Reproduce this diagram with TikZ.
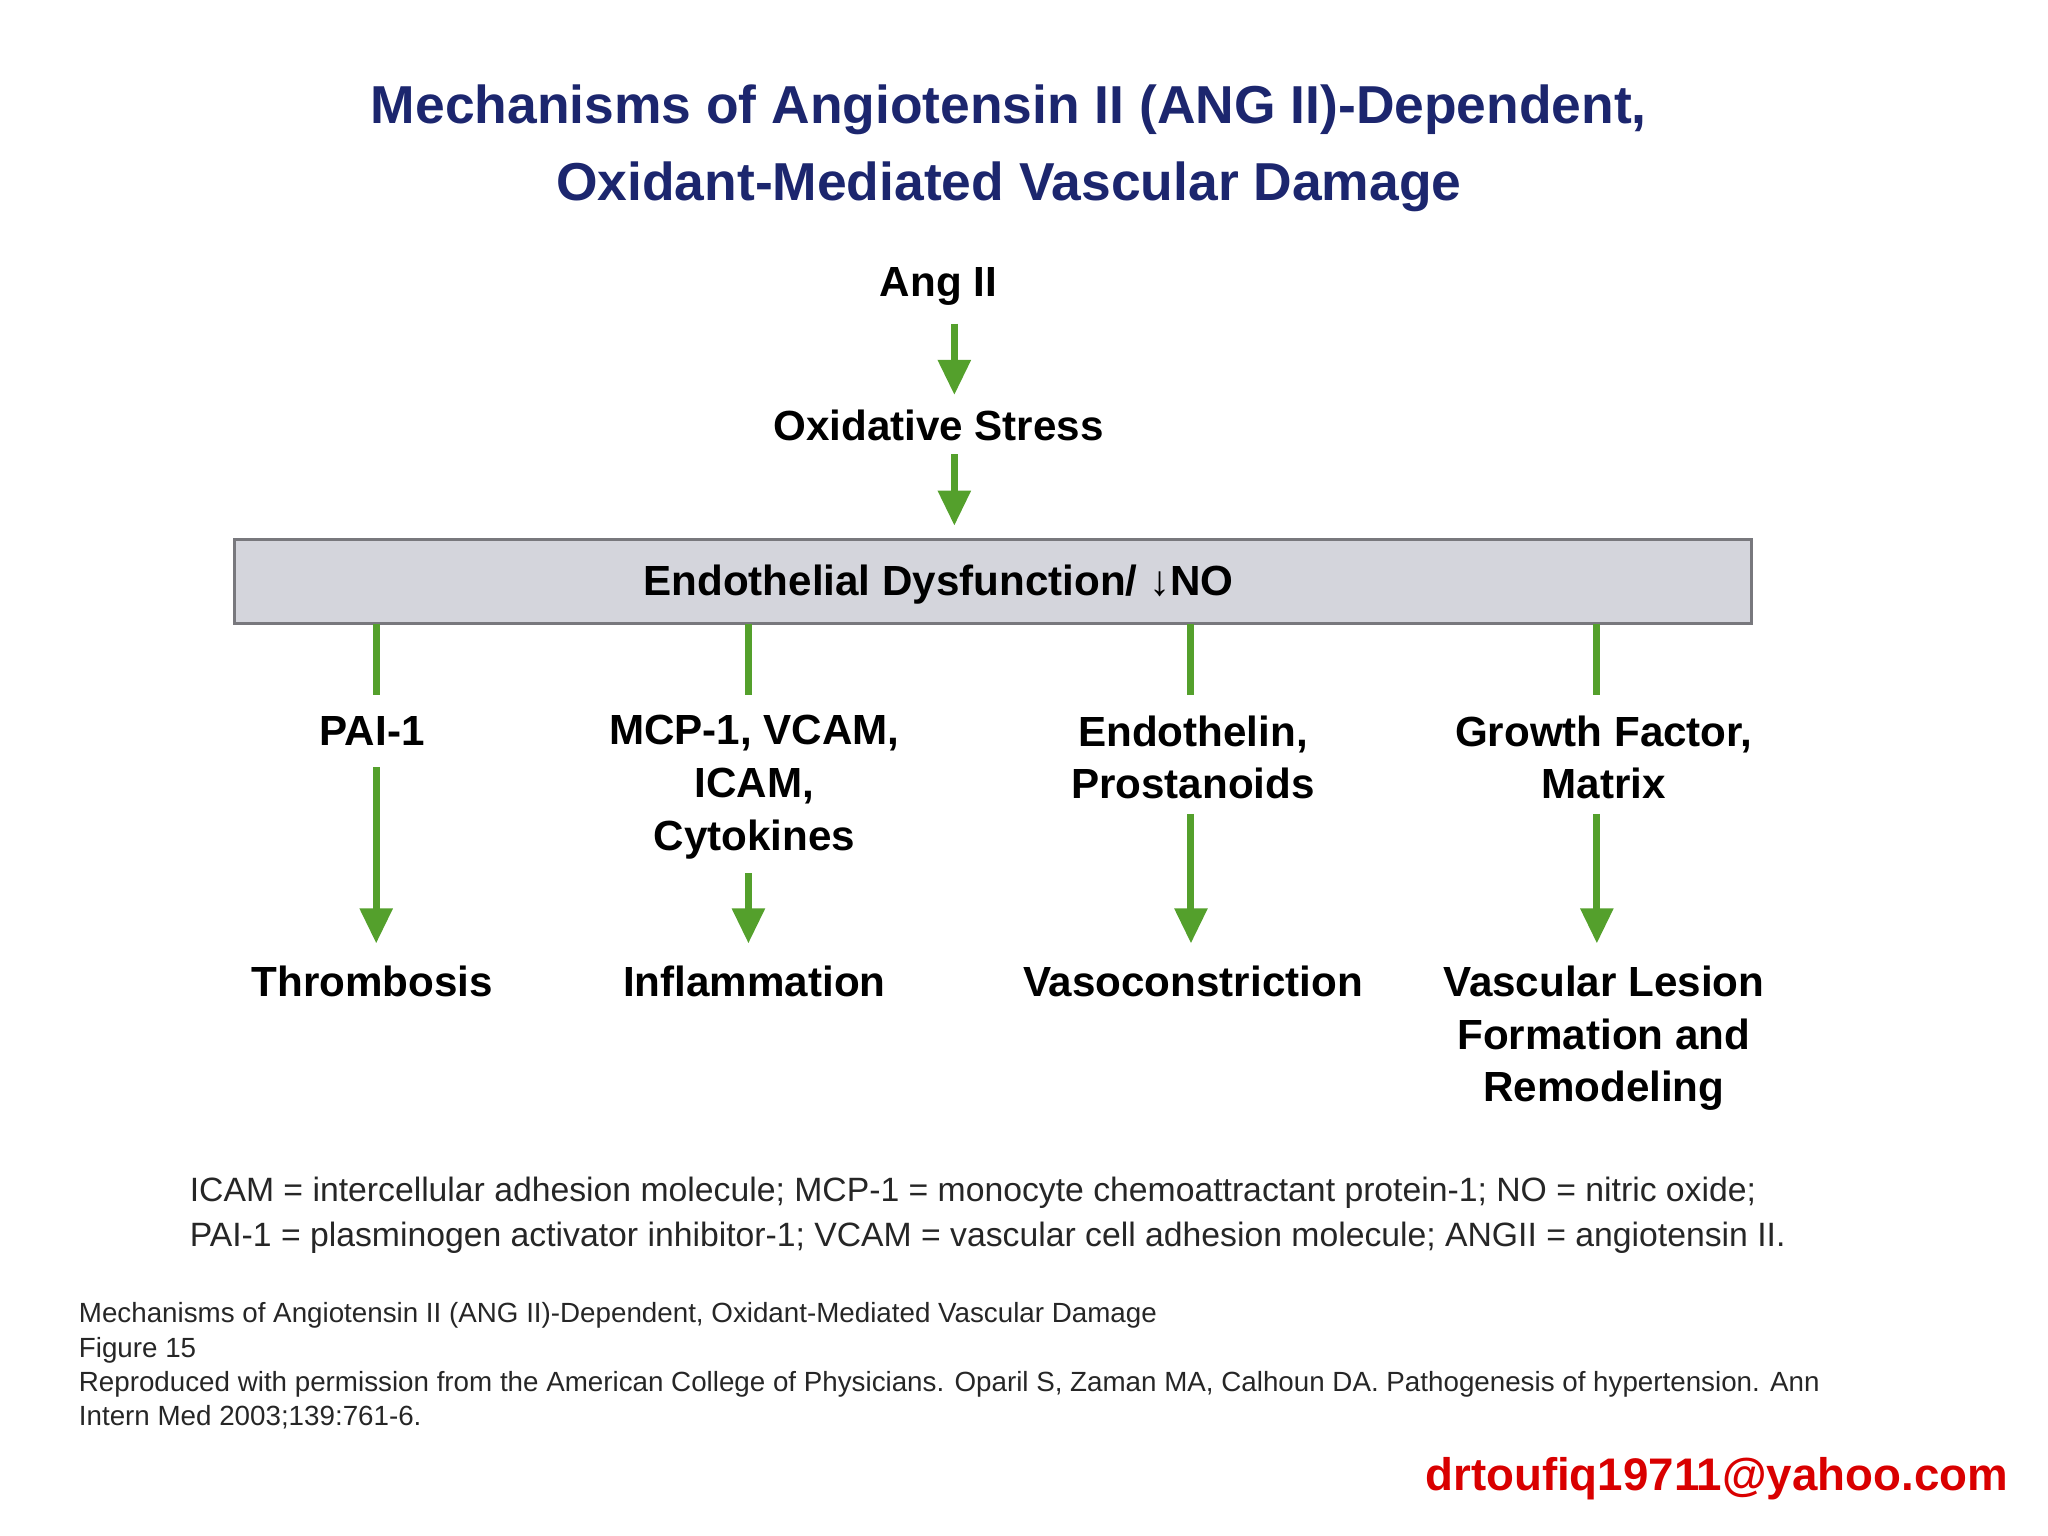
\documentclass[tikz,border=0pt]{standalone}
\usepackage{fontspec}
\setmainfont{Liberation Sans}
\usetikzlibrary{arrows.meta}
\definecolor{ttl}{RGB}{28,38,110}
\definecolor{grn}{RGB}{84,160,44}
\definecolor{boxf}{RGB}{212,213,220}
\definecolor{boxd}{RGB}{120,120,125}
\tikzset{
 lbl/.style={font=\bfseries\fontsize{12}{15}\selectfont, align=center, inner sep=0pt},
 garr/.style={draw=grn, line width=2pt, -{Triangle[length=10pt,width=9pt]}},
 gline/.style={draw=grn, line width=2pt},
 note/.style={font=\fontsize{9.6}{12}\selectfont, anchor=west, inner sep=0pt, text=black!85},
 small/.style={font=\fontsize{7.9}{10}\selectfont, anchor=west, inner sep=0pt, text=black!85}
}
\begin{document}
\begin{tikzpicture}[x=0.0099cm,y=-0.0099cm]
\useasboundingbox (0,0) rectangle (2068.7,1551.5);
\node[font=\bfseries\fontsize{15.2}{22}\selectfont, text=ttl, align=center] (title) at (1019,150)
 {Mechanisms of Angiotensin II (ANG II)-Dependent,\\Oxidant-Mediated Vascular Damage};
\node[lbl] (ang) at (948,289) {Ang II};
\node[lbl] (ox) at (948,430) {Oxidative Stress};
\node[draw=boxd, fill=boxf, line width=1pt, minimum width=15.17cm, minimum height=0.84cm, inner sep=0pt] (box) at (1003,587.5) {};
\node[lbl] (boxt) at (948,590) {Endothelial Dysfunction/ ↓NO};
\coordinate (a1) at (964,327); \coordinate (a2) at (964,399);
\coordinate (b1) at (964,459); \coordinate (b2) at (964,531);
\draw[garr] (a1) -- (a2);
\draw[garr] (b1) -- (b2);
\node[lbl] (l1) at (376,738) {PAI-1};
\node[lbl,anchor=north] (l2) at (762,722) {MCP-1, VCAM,\\ICAM,\\Cytokines};
\node[lbl,anchor=north] (l3) at (1205,722) {Endothelin,\\Prostanoids};
\node[lbl,anchor=north] (l4) at (1620,722) {Growth Factor,\\Matrix};
\node[lbl,anchor=north] (o1) at (376,975) {Thrombosis};
\node[lbl,anchor=north] (o2) at (762,975) {Inflammation};
\node[lbl,anchor=north] (o3) at (1205,975) {Vasoconstriction};
\node[lbl,anchor=north] (o4) at (1620,975) {Vascular Lesion\\Formation and\\Remodeling};
\foreach \x/\t/\n in {380/775/1, 756/882/2, 1203/822/3, 1613/822/4}{
 \coordinate (s\n) at (\x,630); \coordinate (e\n) at (\x,702);
 \coordinate (t\n) at (\x,\t); \coordinate (u\n) at (\x,953);
 \draw[gline] (s\n) -- (e\n);
 \draw[garr] (t\n) -- (u\n);
}
\node[note] (n1) at (191,1205) {ICAM = intercellular adhesion molecule; MCP-1 = monocyte chemoattractant protein-1; NO = nitric oxide;};
\node[note] (n2) at (191,1250) {PAI-1 = plasminogen activator inhibitor-1; VCAM = vascular cell adhesion molecule; ANGII = angiotensin II.};
\node[small] (m1) at (79,1329) {Mechanisms of Angiotensin II (ANG II)-Dependent, Oxidant-Mediated Vascular Damage};
\node[small] (m2) at (79,1364) {Figure 15};
\node[small] (m3) at (79,1398) {Reproduced with permission from the American College of Physicians. Oparil S, Zaman MA, Calhoun DA. Pathogenesis of hypertension. Ann};
\node[small] (m4) at (79,1432) {Intern Med 2003;139:761-6.};
\node[font=\bfseries\fontsize{13}{16}\selectfont, text=red!85!black, anchor=east, inner sep=0pt] (mail) at (2029,1494) {drtoufiq19711@yahoo.com};
\end{tikzpicture}
\end{document}
